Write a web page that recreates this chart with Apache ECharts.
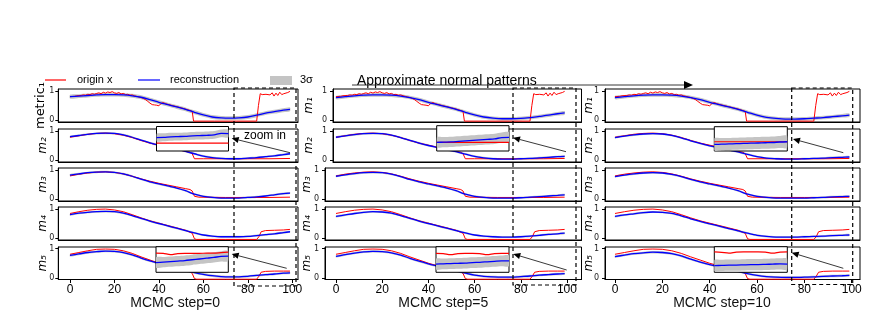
<!DOCTYPE html>
<html><head><meta charset="utf-8">
<script src="https://cdn.jsdelivr.net/npm/echarts@6/dist/echarts.min.js"></script>
<style>html,body{margin:0;padding:0;background:#fff}#c{width:893px;height:335px}</style>
</head><body><div id="c"></div>
<script>
// ---------------- DATA ----------------
const stepTitles = ['MCMC step=0', 'MCMC step=5', 'MCMC step=10'];
const metricNames = ['metric\u2081', 'm\u2082', 'm\u2083', 'm\u2084', 'm\u2085'];
const xTicks = [0, 20, 40, 60, 80, 100];
const yTicks = [0, 1];
const legendNames = ['origin x', 'reconstruction', '3\u03c3'];

// x positions of the reconstruction samples
const xs = [0,4,8,12,16,20,24,28,32,36,40,44,48,52,56,60,64,68,72,76,80,84,88,92,96,99];

// origin x (same input for every MCMC step), [x, value]
const origin_m1 = [[0,0.80],[2,0.81],[3,0.83],[5,0.84],[6,0.86],[7,0.85],[8,0.88],[9,0.87],[10,0.90],[11,0.88],[12,0.91],[13,0.93],[14,0.90],[15,0.95],[16,0.92],[17,0.96],[18,0.94],[19,0.97],[20,0.93],[21,0.91],[22,0.94],[23,0.89],[24,0.91],[25,0.87],[26,0.88],[27,0.85],[28,0.86],[29,0.83],[30,0.81],[31,0.79],[32,0.77],[33,0.74],[34,0.70],[35,0.64],[36,0.58],[37,0.53],[38,0.52],[39,0.51],[40,0.49],[41,0.57],[42,0.60],[43,0.56],[44,0.54],[46,0.50],[48,0.46],[50,0.42],[52,0.38],[54,0.33],[55,0.30],[55.6,-0.03],[65,-0.03],[75,-0.03],[84,-0.03],[84.8,0.50],[85.6,0.90],[86.5,0.87],[87.3,0.92],[88.2,0.88],[89,0.91],[90,0.86],[91,0.93],[91.8,0.82],[92.7,0.92],[93.5,0.84],[94.4,0.95],[95.3,0.87],[96.2,0.90],[97,0.86],[98,0.94],[99,0.98]];
const origin_m2 = [[0,0.78],[4,0.83],[8,0.88],[12,0.91],[16,0.92],[20,0.90],[24,0.85],[28,0.77],[32,0.67],[36,0.58],[40,0.51],[44,0.44],[48,0.37],[52,0.30],[54,0.27],[55,0.22],[56,0.05],[60,0.05],[70,0.05],[80,0.05],[90,0.05],[99,0.06]];
const origin_m3 = [[0,0.79],[4,0.85],[8,0.89],[12,0.92],[16,0.93],[20,0.91],[24,0.86],[28,0.78],[32,0.69],[36,0.61],[40,0.54],[44,0.48],[48,0.42],[52,0.36],[54,0.33],[55,0.28],[56,0.10],[58,0.07],[70,0.06],[80,0.06],[90,0.06],[99,0.07]];
const origin_m4 = [[0,0.84],[4,0.90],[8,0.95],[12,0.98],[16,0.99],[20,0.96],[24,0.90],[28,0.80],[32,0.69],[36,0.59],[40,0.51],[44,0.43],[48,0.35],[52,0.27],[54,0.20],[55,0.17],[56,-0.02],[57,-0.04],[70,-0.04],[84,-0.04],[85,0.05],[86,0.22],[88,0.26],[92,0.27],[96,0.28],[99,0.30]];
const origin_m5 = [[0,0.81],[4,0.87],[8,0.93],[12,0.98],[16,0.99],[20,0.98],[24,0.93],[28,0.84],[32,0.72],[36,0.61],[40,0.50],[44,0.41],[48,0.33],[52,0.25],[54,0.21],[55,0.15],[56,-0.03],[57,-0.05],[70,-0.05],[84,-0.05],[85,0.05],[86,0.19],[88,0.22],[92,0.23],[96,0.23],[99,0.23]];
const originX = [origin_m1, origin_m2, origin_m3, origin_m4, origin_m5];

// reconstruction per MCMC step, one array per metric (values at xs)
const recon_step0 = [
  [0.80,0.82,0.84,0.86,0.87,0.87,0.86,0.83,0.78,0.70,0.61,0.53,0.45,0.37,0.27,0.18,0.11,0.08,0.07,0.08,0.11,0.17,0.24,0.29,0.34,0.37],
  [0.80,0.84,0.88,0.91,0.92,0.91,0.86,0.78,0.68,0.59,0.51,0.44,0.37,0.30,0.22,0.14,0.09,0.06,0.05,0.05,0.07,0.09,0.12,0.15,0.19,0.22],
  [0.82,0.86,0.90,0.92,0.93,0.91,0.86,0.78,0.68,0.59,0.52,0.45,0.38,0.29,0.17,0.10,0.06,0.04,0.04,0.04,0.06,0.08,0.11,0.15,0.19,0.21],
  [0.80,0.85,0.88,0.90,0.91,0.90,0.85,0.77,0.67,0.58,0.50,0.42,0.34,0.26,0.18,0.11,0.07,0.05,0.05,0.05,0.06,0.09,0.12,0.15,0.19,0.22],
  [0.77,0.82,0.87,0.90,0.92,0.91,0.87,0.79,0.68,0.58,0.49,0.41,0.33,0.25,0.18,0.12,0.07,0.04,0.03,0.03,0.05,0.08,0.11,0.13,0.16,0.17]
];
const recon_step5 = [
  [0.77,0.80,0.83,0.85,0.86,0.86,0.85,0.82,0.77,0.70,0.61,0.53,0.45,0.37,0.27,0.18,0.11,0.07,0.05,0.05,0.06,0.09,0.13,0.17,0.22,0.25],
  [0.78,0.83,0.87,0.90,0.91,0.90,0.85,0.77,0.67,0.58,0.50,0.43,0.36,0.29,0.21,0.13,0.08,0.05,0.04,0.04,0.05,0.06,0.08,0.10,0.12,0.13],
  [0.78,0.83,0.87,0.90,0.91,0.90,0.85,0.77,0.67,0.59,0.52,0.45,0.38,0.29,0.17,0.10,0.06,0.04,0.04,0.04,0.05,0.07,0.09,0.11,0.13,0.15],
  [0.74,0.79,0.84,0.88,0.90,0.89,0.85,0.77,0.67,0.58,0.50,0.42,0.34,0.26,0.18,0.11,0.07,0.05,0.04,0.04,0.05,0.07,0.10,0.13,0.15,0.17],
  [0.74,0.80,0.85,0.89,0.91,0.90,0.86,0.78,0.67,0.57,0.48,0.40,0.32,0.24,0.16,0.09,0.05,0.03,0.02,0.02,0.04,0.06,0.09,0.11,0.13,0.14]
];
const recon_step10 = [
  [0.77,0.80,0.83,0.85,0.86,0.86,0.85,0.82,0.77,0.70,0.61,0.53,0.45,0.37,0.27,0.17,0.10,0.06,0.04,0.04,0.05,0.07,0.09,0.12,0.15,0.17],
  [0.77,0.82,0.86,0.89,0.90,0.89,0.84,0.76,0.66,0.57,0.49,0.42,0.35,0.28,0.20,0.12,0.07,0.05,0.04,0.04,0.05,0.06,0.07,0.09,0.10,0.11],
  [0.77,0.82,0.86,0.89,0.90,0.89,0.84,0.77,0.67,0.59,0.52,0.45,0.38,0.29,0.17,0.10,0.06,0.04,0.04,0.04,0.04,0.05,0.06,0.08,0.09,0.10],
  [0.74,0.79,0.83,0.87,0.89,0.88,0.84,0.76,0.66,0.57,0.49,0.41,0.33,0.25,0.17,0.10,0.06,0.04,0.04,0.04,0.05,0.06,0.07,0.09,0.10,0.11],
  [0.73,0.78,0.83,0.86,0.88,0.87,0.83,0.75,0.64,0.54,0.45,0.38,0.30,0.22,0.14,0.08,0.04,0.02,0.01,0.01,0.02,0.03,0.05,0.06,0.07,0.08]
];
const recon = [recon_step0, recon_step5, recon_step10];

// 3-sigma half widths per metric
const sigma_step0 = [0.065, 0.035, 0.035, 0.035, 0.04];
const sigma_step5 = [0.06, 0.035, 0.035, 0.035, 0.04];
const sigma_step10 = [0.06, 0.035, 0.035, 0.035, 0.04];
const sigmas = [sigma_step0, sigma_step5, sigma_step10];

// zoom-in insets (normalised inset units)
const insetX = [0,1,2,3,4,5,6,7,8,9,10];
const inset0_m2_origin = [0.32,0.32,0.32,0.32,0.32,0.32,0.32,0.32,0.32,0.32,0.32];
const inset0_m2_recon  = [0.55,0.56,0.58,0.59,0.60,0.62,0.63,0.64,0.66,0.72,0.71];
const inset0_m5_origin = [0.75,0.74,0.69,0.73,0.74,0.74,0.74,0.75,0.75,0.77,0.79];
const inset0_m5_recon  = [0.38,0.40,0.42,0.44,0.46,0.49,0.52,0.55,0.58,0.62,0.63];
const inset5_m2_origin = [0.34,0.34,0.34,0.34,0.34,0.34,0.34,0.34,0.34,0.34,0.34];
const inset5_m2_recon  = [0.34,0.35,0.36,0.38,0.40,0.42,0.44,0.46,0.48,0.53,0.54];
const inset5_m5_origin = [0.74,0.73,0.69,0.73,0.74,0.74,0.73,0.69,0.73,0.74,0.74];
const inset5_m5_recon  = [0.32,0.33,0.34,0.35,0.36,0.38,0.39,0.41,0.43,0.45,0.45];
const inset10_m2_origin = [0.38,0.38,0.38,0.38,0.38,0.38,0.38,0.38,0.38,0.38,0.38];
const inset10_m2_recon  = [0.27,0.28,0.29,0.30,0.31,0.32,0.33,0.34,0.35,0.37,0.38];
const inset10_m5_origin = [0.80,0.78,0.75,0.79,0.80,0.80,0.80,0.79,0.75,0.79,0.80];
const inset10_m5_recon  = [0.26,0.27,0.28,0.28,0.29,0.30,0.30,0.31,0.32,0.33,0.32];
const insetSigma = [0.16, 0.2, 0.2, 0.21, 0.25, 0.22];

// ---------------- LAYOUT ----------------
const RED = '#ff0000', BLUE = '#0000ff', GRAY = '#c4c4c4';
const FONT = 'Liberation Sans';
const rowTop = [89, 129, 168, 207, 247];
const rowH = [33, 33, 33, 33, 32.5];
const colL = [
  {left:58.3, width:239.7, xmin:-5.26, xmax:102.6, labMargin:4, nameGap:9, titlePad:6},
  {left:325, width:256.5, xmin:-4.76, xmax:106.3, labMargin:6, nameGap:12, titlePad:20},
  {left:605, width:255, xmin:-4.22, xmax:103.5, labMargin:6, nameGap:10, titlePad:21}
];
const insetL = [
  {left:156.5, top:126.5, w:72, h:24.5},
  {left:156, top:246.7, w:72.3, h:25.6},
  {left:436.7, top:125.7, w:72.3, h:25.3},
  {left:436, top:246.7, w:73, h:25.6},
  {left:714.3, top:126.7, w:73, h:24.3},
  {left:714.3, top:246.7, w:73, h:25.6}
];
const insetData = [
  [inset0_m2_origin, inset0_m2_recon], [inset0_m5_origin, inset0_m5_recon],
  [inset5_m2_origin, inset5_m2_recon], [inset5_m5_origin, inset5_m5_recon],
  [inset10_m2_origin, inset10_m2_recon], [inset10_m5_origin, inset10_m5_recon]
];

// ---------------- BUILD ----------------
const grids = [], xAxes = [], yAxes = [], series = [];

function bandSeries(gi, pts, z) {
  // pts: [x, low, high]
  return {
    type: 'custom', name: legendNames[2], xAxisIndex: gi, yAxisIndex: gi, z: z, silent: true,
    data: pts, encode: {x: 0, y: [1, 2]},
    renderItem: function (params, api) {
      if (params.dataIndex !== 0) return null;
      const up = pts.map(p => api.coord([p[0], p[2]]));
      const lo = pts.map(p => api.coord([p[0], p[1]])).reverse();
      const cs = params.coordSys;
      return {
        type: 'polygon', shape: {points: up.concat(lo), smooth: 0.25},
        style: {fill: GRAY},
        clipPath: {type: 'rect', shape: {x: cs.x, y: cs.y, width: cs.width, height: cs.height}}
      };
    }
  };
}

for (let c = 0; c < 3; c++) {
  for (let r = 0; r < 5; r++) {
    const gi = grids.length;
    const cl = colL[c];
    let left = cl.left, width = cl.width, xmin = cl.xmin, nameGap = cl.nameGap;
    if (c === 1 && r < 2) { left = 333; width = 248.5; xmin = -1.3; nameGap = 18; }
    grids.push({left, top: rowTop[r], width, height: rowH[r], show: true,
      borderColor: '#000', borderWidth: 1, backgroundColor: 'transparent'});
    const bottom = r === 4;
    xAxes.push({gridIndex: gi, type: 'value', min: xmin, max: cl.xmax,
      axisLine: {show: true, onZero: false, lineStyle: {color: '#000', width: 1}},
      axisTick: {show: bottom, customValues: xTicks, length: 3.5, lineStyle: {color: '#000'}},
      axisLabel: {show: bottom, customValues: xTicks, fontSize: 12, margin: 4, color: '#000', fontFamily: FONT},
      splitLine: {show: false},
      name: bottom ? stepTitles[c] : '', nameLocation: 'middle', nameGap: 17, nameMoveOverlap: false,
      nameTextStyle: {fontSize: 14, fontFamily: FONT, color: '#111', padding: [0, cl.titlePad, 0, 0]}
    });
    const isMetric = r === 0 && c === 0;
    yAxes.push({gridIndex: gi, type: 'value', min: -0.06, max: 1.06,
      name: c === 0 ? metricNames[r] : (r === 0 ? 'm\u2081' : metricNames[r]),
      nameLocation: 'middle', nameGap: isMetric ? 11 : nameGap, nameMoveOverlap: false,
      nameTextStyle: {fontFamily: 'DejaVu Sans', fontStyle: isMetric ? 'normal' : 'italic',
        fontSize: isMetric ? 13 : 12, color: '#000'},
      axisLine: {show: true, onZero: false, lineStyle: {color: '#000', width: 1}},
      axisTick: {show: true, customValues: yTicks, length: 3, lineStyle: {color: '#000'}},
      axisLabel: {customValues: yTicks, fontSize: 8, margin: cl.labMargin, color: '#222', fontFamily: 'DejaVu Sans'},
      splitLine: {show: false}
    });
    const rec = recon[c][r], s = sigmas[c][r];
    series.push(bandSeries(gi, xs.map((x, i) => [x, rec[i] - s, rec[i] + s]), 2));
    series.push({type: 'line', name: legendNames[0], xAxisIndex: gi, yAxisIndex: gi, z: 3,
      data: originX[r], symbol: 'none', lineStyle: {color: RED, width: 1}, itemStyle: {color: RED}, silent: true});
    series.push({type: 'line', name: legendNames[1], xAxisIndex: gi, yAxisIndex: gi, z: 4,
      data: xs.map((x, i) => [x, rec[i]]), symbol: 'none', smooth: 0.3,
      lineStyle: {color: BLUE, width: 1.3}, itemStyle: {color: BLUE}, silent: true});
  }
}

// insets
insetL.forEach((L, k) => {
  const gi = grids.length;
  grids.push({left: L.left, top: L.top, width: L.w, height: L.h, show: true,
    borderColor: '#000', borderWidth: 1, backgroundColor: '#fff', z: 10});
  xAxes.push({gridIndex: gi, type: 'value', min: 0, max: 10, show: false});
  yAxes.push({gridIndex: gi, type: 'value', min: 0, max: 1, show: false});
  const [org, rec] = insetData[k];
  const s = insetSigma[k];
  series.push(bandSeries(gi, insetX.map((x, i) => [x, rec[i] - s, rec[i] + s]), 12));
  series.push({type: 'line', name: legendNames[0], xAxisIndex: gi, yAxisIndex: gi, z: 13,
    data: insetX.map((x, i) => [x, org[i]]), symbol: 'none', smooth: 0.3,
    lineStyle: {color: RED, width: 1.2}, itemStyle: {color: RED}, silent: true});
  series.push({type: 'line', name: legendNames[1], xAxisIndex: gi, yAxisIndex: gi, z: 14,
    data: insetX.map((x, i) => [x, rec[i]]), symbol: 'none', smooth: 0.3,
    lineStyle: {color: BLUE, width: 1.3}, itemStyle: {color: BLUE}, silent: true});
});

// annotations
const graphics = [];
function arrow(tx, ty, hx, hy, head) {
  const dx = hx - tx, dy = hy - ty, len = Math.hypot(dx, dy);
  const ux = dx / len, uy = dy / len;
  const bx = hx - ux * head, by = hy - uy * head;
  const px = -uy * head * 0.45, py = ux * head * 0.45;
  graphics.push({type: 'line', z: 50, silent: true, shape: {x1: tx, y1: ty, x2: bx, y2: by},
    style: {stroke: '#222', lineWidth: 0.9}});
  graphics.push({type: 'polygon', z: 50, silent: true,
    shape: {points: [[hx, hy], [bx + px, by + py], [bx - px, by - py]]}, style: {fill: '#000'}});
}
const dashBoxes = [[234, 88, 296, 286], [513, 88, 576, 285], [791.7, 88, 852.7, 284.5]];
dashBoxes.forEach(b => graphics.push({type: 'rect', z: 40, silent: true,
  shape: {x: b[0], y: b[1], width: b[2] - b[0], height: b[3] - b[1]},
  style: {fill: 'none', stroke: '#000', lineWidth: 1.2, lineDash: [4, 3]}}));
arrow(290, 152.7, 231.7, 138.3, 7);
arrow(286.7, 268.3, 231.7, 254, 7);
arrow(566, 151.7, 513, 137.7, 7);
arrow(566.7, 270, 513.3, 254, 7);
arrow(843.3, 152.7, 793, 139, 7);
arrow(843.3, 268.3, 791.7, 252.7, 7);
arrow(352, 85, 693, 85, 9);
graphics.push({type: 'text', z: 50, silent: true,
  style: {text: 'zoom in', x: 244, y: 136, verticalAlign: 'middle', fontSize: 12, fontFamily: FONT, fill: '#000'}});

// legend (drawn as graphic)
graphics.push({type: 'line', z: 50, silent: true, shape: {x1: 45, y1: 80, x2: 66, y2: 80}, style: {stroke: RED, lineWidth: 1.2}});
graphics.push({type: 'text', z: 50, silent: true, style: {text: legendNames[0], x: 77, y: 80, verticalAlign: 'middle', fontSize: 11, fontFamily: FONT, fill: '#000'}});
graphics.push({type: 'line', z: 50, silent: true, shape: {x1: 138, y1: 80, x2: 160, y2: 80}, style: {stroke: BLUE, lineWidth: 1.2}});
graphics.push({type: 'text', z: 50, silent: true, style: {text: legendNames[1], x: 170, y: 80, verticalAlign: 'middle', fontSize: 11, fontFamily: FONT, fill: '#000'}});
graphics.push({type: 'rect', z: 50, silent: true, shape: {x: 270, y: 76, width: 22, height: 9}, style: {fill: GRAY}});
graphics.push({type: 'text', z: 50, silent: true, style: {text: legendNames[2], x: 300, y: 80, verticalAlign: 'middle', fontSize: 11, fontFamily: FONT, fill: '#000'}});

const option = {
  animation: false,
  backgroundColor: '#fff',
  title: {text: 'Approximate normal patterns', left: 352, top: 69,
    textStyle: {fontSize: 14, fontWeight: 'normal', fontFamily: FONT, color: '#000'}},
  grid: grids, xAxis: xAxes, yAxis: yAxes, series,
  graphic: {elements: graphics}
};
const chart = echarts.init(document.getElementById('c'), null, {renderer: 'canvas'});
chart.setOption(option);
</script></body></html>
